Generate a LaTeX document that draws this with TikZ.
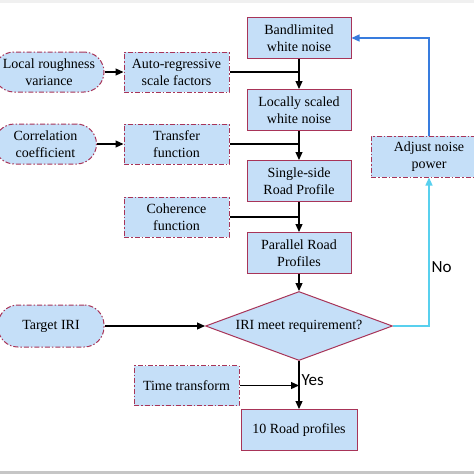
\documentclass[tikz,border=0pt]{standalone}
\usepackage{fontspec}
\setmainfont{Liberation Serif}
\newfontfamily\yesnofont{Carlito}
\usetikzlibrary{shapes.geometric,arrows.meta}
\definecolor{boxfill}{RGB}{197,223,248}
\definecolor{boxline}{RGB}{168,52,88}
\definecolor{nocyan}{RGB}{88,208,238}
\definecolor{backblue}{RGB}{56,124,222}

\begin{document}
\begin{tikzpicture}[x=1pt,y=-1pt,
    font=\fontsize{14}{17}\selectfont,
    proc/.style={draw=boxline,fill=boxfill,line width=1pt,align=center,
      minimum width=104pt,minimum height=41pt,inner sep=2pt},
    side/.style={proc,dash pattern=on 5pt off 2pt on 1.5pt off 2pt,
      minimum width=105pt,minimum height=40pt},
    term/.style={side,rounded corners=20pt},
    test/.style={proc,shape=diamond,aspect=2.7,minimum width=187pt,
      minimum height=69pt,inner sep=0pt},
    flow/.style={line width=1.2pt,-{Triangle[length=8pt,width=7pt]}},
    feed/.style={line width=1.2pt},
    yn/.style={font=\yesnofont\fontsize{17}{20}\selectfont,inner sep=2pt}]

    \useasboundingbox (0,0) rectangle (474,474);
    \fill[gray!12] (0,0) rectangle (474,3);
    \fill[gray!45] (0,471) rectangle (474,474);

    % main column
    \node[proc] (a) at (299, 38) {Bandlimited\\white noise};
    \node[proc] (b) at (299, 110) {Locally scaled\\white noise};
    \node[proc] (c) at (299, 181) {Single-side\\Road Profile};
    \node[proc] (d) at (299, 253) {Parallel Road\\Profiles};
    \node[test] (e) at (299, 326) {IRI meet requirement?};
    \node[proc, minimum width=116pt] (f) at (299, 430) {10 Road profiles};

    % side inputs
    \node[side] (g) at (176.5, 72) {Auto-regressive\\scale factors};
    \node[side] (h) at (176.5, 144) {Transfer\\function};
    \node[side] (i) at (176.5, 217) {Coherence\\function};
    \node[side] (j) at (186.5, 385.5) {Time transform};
    \node[term, minimum width=110pt] (k) at (49, 72) {Local roughness\\variance};
    \node[term, minimum width=102pt] (l) at (45.5, 144) {Correlation\\coefficient};
    \node[term, minimum width=106pt, minimum height=42pt] (m) at (51, 326) {Target IRI};
    \node[side, minimum width=116pt, minimum height=41pt] (n) at (429, 156.5) {Adjust noise\\power};

    \draw[flow] (k) -- (g);
    \draw[flow] (l) -- (h);
    \draw[feed] (g.east) -- (g.east -| a.south);
    \draw[feed] (h.east) -- (h.east -| b.south);
    \draw[feed] (i.east) -- (i.east -| c.south);
    \draw[flow] (a) -- (b);
    \draw[flow] (b) -- (c);
    \draw[flow] (c) -- (d);
    \draw[flow] (d) -- (e);
    \draw[flow] (m) -- (e);
    \draw[flow] (e) -- node[yn, right, pos=0.4] {Yes} (f);
    \draw[flow] (j.east) -- (j.east -| e.south);
    \draw[flow, nocyan] (e.east) -| node[yn, right, pos=0.7, black] {No} (n.south);
    \draw[flow, backblue] (n.north) |- (a.east);

\end{tikzpicture}
\end{document}
